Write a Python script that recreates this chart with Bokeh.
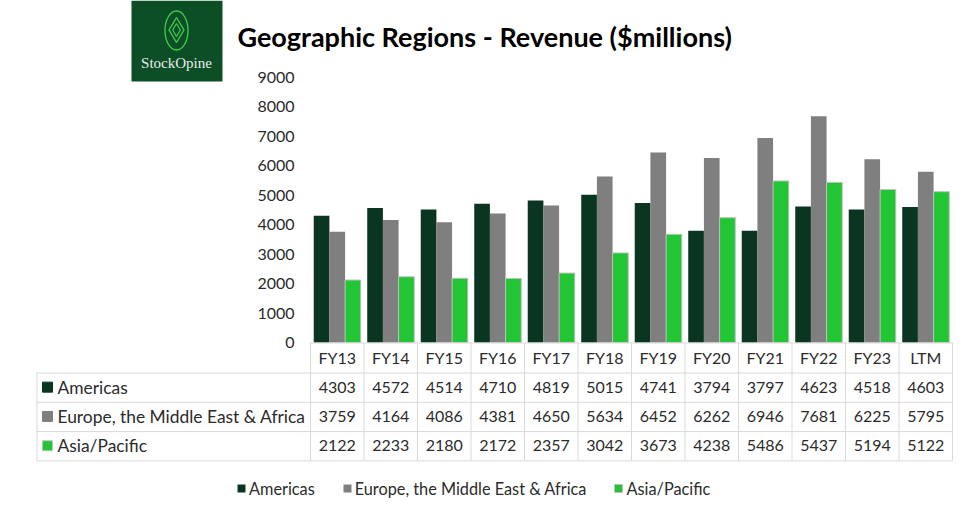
import numpy as np
from bokeh.plotting import figure
from bokeh.models import (Range1d, ColumnDataSource, Legend, LegendItem)
from bokeh.core.properties import value
from bokeh.transform import dodge
from bokeh.embed import file_html
from bokeh.resources import INLINE

# ---------------- data ----------------
categories = ["FY13", "FY14", "FY15", "FY16", "FY17", "FY18",
              "FY19", "FY20", "FY21", "FY22", "FY23", "LTM"]
americas = [4303, 4572, 4514, 4710, 4819, 5015, 4741, 3794, 3797, 4623, 4518, 4603]
emea = [3759, 4164, 4086, 4381, 4650, 5634, 6452, 6262, 6946, 7681, 6225, 5795]
asia_pacific = [2122, 2233, 2180, 2172, 2357, 3042, 3673, 4238, 5486, 5437, 5194, 5122]
series_names = ["Americas", "Europe, the Middle East & Africa", "Asia/Pacific"]
y_ticks = [0, 1000, 2000, 3000, 4000, 5000, 6000, 7000, 8000, 9000]
y_max = 9000
title_text = "Geographic Regions - Revenue ($millions)"
logo_text = "StockOpine"

# ---------------- styles / layout ----------------
colors = ["#0a3520", "#7f7f7f", "#22c635"]
line_colors = [None, None, "#bfbfbf"]
FONT = value("Lato")
TXT = "#2b2b2b"
GRID = "#d9d9d9"

W, H = 975, 519
L, R, T, B = 310, 952, 77, 342        # plot-area box in canvas pixels

n = len(categories)
pos = [i + 0.5 for i in range(n)]      # category centres
ux = (R - L) / n                        # px per category
uy = (B - T) / y_max                    # px per value unit

p = figure(width=W, height=H,
           x_range=Range1d(-L / ux, n + (W - R) / ux),
           y_range=Range1d(-(H - B) / uy, y_max + T / uy),
           x_axis_location=None, y_axis_location=None,
           output_backend="svg", toolbar_location=None,
           min_border=0, min_border_left=0, min_border_right=0,
           min_border_top=0, min_border_bottom=0)
p.extra_x_ranges = {"px": Range1d(0, W)}
p.extra_y_ranges = {"py": Range1d(H, 0)}
p.outline_line_color = None
p.grid.visible = False
p.background_fill_color = "white"
p.border_fill_color = "white"

# ---------------- bars ----------------
src = ColumnDataSource(dict(pos=pos, cat=categories, s0=americas, s1=emea, s2=asia_pacific))
bw = 0.293
offsets = [-bw, 0.0, bw]
renderers = []
for i, key in enumerate(["s0", "s1", "s2"]):
    r = p.vbar(x=dodge("pos", offsets[i]), top=key, bottom=0, width=bw,
               source=src, fill_color=colors[i], line_color=line_colors[i],
               line_width=1)
    renderers.append(r)

# ---------------- value axis labels ----------------
ysrc = ColumnDataSource(dict(y=y_ticks, text=[str(v) for v in y_ticks]))
p.text(x=L - 16, y="y", text="text", source=ysrc, x_range_name="px",
       text_font=FONT, text_font_size="16px", text_color=TXT,
       text_align="right", text_baseline="middle")

# ---------------- data table ----------------
row_h = 29.3
header_bottom = 372.0
row_centers = [header_bottom + row_h * (i + 0.5) for i in range(3)]
row_lines = [header_bottom + row_h * i for i in range(4)]
table_left = 36.0
header_y = (B + header_bottom) / 2

# vertical lines at category boundaries
vsrc = ColumnDataSource(dict(x=list(range(n + 1)), y0=[B] * (n + 1),
                             y1=[row_lines[-1]] * (n + 1)))
p.segment(x0="x", y0="y0", x1="x", y1="y1", source=vsrc, y_range_name="py",
          line_color=GRID, line_width=1)
# horizontal lines (axis line + row lines)
hsrc = ColumnDataSource(dict(x0=[L] + [table_left] * 4, x1=[R] * 5,
                             y=[B + 0.5] + [v + 0.5 for v in row_lines]))
p.segment(x0="x0", y0="y", x1="x1", y1="y", source=hsrc,
          x_range_name="px", y_range_name="py", line_color=GRID, line_width=1)
p.segment(x0=table_left + 0.5, y0=row_lines[0], x1=table_left + 0.5, y1=row_lines[-1],
          x_range_name="px", y_range_name="py", line_color=GRID, line_width=1)

# header (category labels)
p.text(x="pos", y=header_y, text="cat", source=src, y_range_name="py",
       text_font=FONT, text_font_size="16px", text_color=TXT,
       text_align="center", text_baseline="middle")

# row labels and keys
lab_src = ColumnDataSource(dict(x=[57] * 3, kx=[47] * 3, y=row_centers, text=series_names,
                                color=colors, lc=[c or f for c, f in zip(line_colors, colors)]))
p.text(x="x", y="y", text="text", source=lab_src, x_range_name="px", y_range_name="py",
       text_font=FONT, text_font_size="17.4px", text_color=TXT,
       text_align="left", text_baseline="middle")
p.rect(x="kx", y="y", width=10, height=10, source=lab_src,
       x_range_name="px", y_range_name="py", fill_color="color", line_color="lc")

# values
vals = [americas, emea, asia_pacific]
v_x, v_y, v_txt = [], [], []
for i in range(3):
    for j in range(n):
        v_x.append(pos[j])
        v_y.append(row_centers[i])
        v_txt.append(str(vals[i][j]))
val_src = ColumnDataSource(dict(x=v_x, y=v_y, text=v_txt))
p.text(x="x", y="y", text="text", source=val_src, y_range_name="py",
       text_font=FONT, text_font_size="16px", text_color=TXT,
       text_align="center", text_baseline="middle")

# ---------------- title ----------------
p.text(x=[237], y=[36], text=[title_text], x_range_name="px", y_range_name="py",
       text_font=FONT, text_font_style="bold", text_font_size="27px",
       text_color="black", text_align="left", text_baseline="middle")

# ---------------- logo ----------------
p.quad(left=[131], right=[222], top=[0], bottom=[81], x_range_name="px", y_range_name="py",
       fill_color="#0c4f27", line_color=None)
p.ellipse(x=[176], y=[30], width=[23], height=[39], x_range_name="px", y_range_name="py",
          fill_alpha=0, line_color="#3fcf4c", line_width=1.3)
p.patch(x=[176, 183.5, 176, 168.5], y=[17, 29.5, 42, 29.5], x_range_name="px",
        y_range_name="py", fill_alpha=0, line_color="#3fcf4c", line_width=1.4)
p.patch(x=[176, 179.8, 176, 172.2], y=[23, 29.5, 36, 29.5], x_range_name="px",
        y_range_name="py", fill_alpha=0, line_color="#3fcf4c", line_width=1.2)
p.text(x=[176], y=[62], text=[logo_text], x_range_name="px", y_range_name="py",
       text_font=value("Liberation Serif"), text_font_size="15px",
       text_color="#e8ece8", text_align="center", text_baseline="middle")

# ---------------- legend ----------------
legend = Legend(items=[LegendItem(label=series_names[i], renderers=[renderers[i]])
                       for i in range(3)],
                orientation="horizontal", location=(236, 21),
                glyph_width=10, glyph_height=10, label_standoff=3, spacing=27,
                padding=0, margin=0, border_line_color=None, background_fill_alpha=0,
                label_text_font="Lato", label_text_font_size="16.3px",
                label_text_color=TXT, label_height=20)
p.add_layout(legend, "center")

open("out.html", "w").write(file_html(p, INLINE))
